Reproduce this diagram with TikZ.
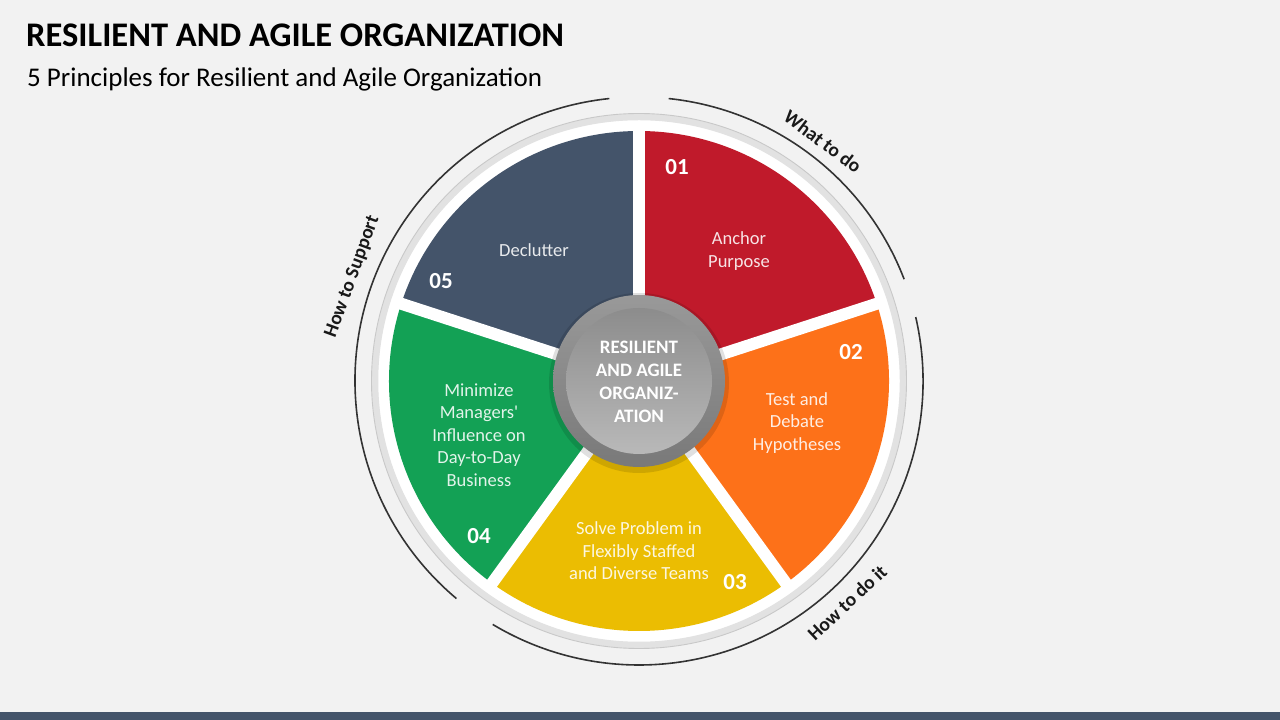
\documentclass[tikz,border=0pt]{standalone}
\usepackage{fontspec}
\setmainfont{Carlito}[Ligatures=TeXOff]
\definecolor{bgc}{HTML}{F2F2F2}
\definecolor{cred}{HTML}{C01A2B}
\definecolor{corange}{HTML}{FD7119}
\definecolor{cyellow}{HTML}{EBBD02}
\definecolor{cgreen}{HTML}{13A155}
\definecolor{cslate}{HTML}{44546A}
\definecolor{arcc}{HTML}{333333}
\definecolor{ringc}{HTML}{E2E2E2}
\definecolor{ringl}{HTML}{C8C8C8}
\begin{document}
\begin{tikzpicture}[x=1pt,y=1pt,
  wtext/.style={text=white, text opacity=0.88, font=\fontsize{18.5}{22.5}\selectfont, align=center},
  numtext/.style={text=white, font=\fontsize{23}{26}\selectfont\bfseries},
  lbl/.style={text=black!90, font=\fontsize{19.5}{24}\selectfont\bfseries},
  outarc/.style={draw=arcc, line width=1.6}]
\fill[bgc] (0,0) rectangle (1280,720);
\useasboundingbox (0,0) rectangle (1280,720);
\fill[cslate] (0,0) rectangle (1280,8);
\node[anchor=base west, font=\fontsize{34.5}{38}\selectfont\bfseries, inner sep=0] (title) at (26,673) {RESILIENT AND AGILE ORGANIZATION};
\node[anchor=base west, font=\fontsize{27}{30}\selectfont, inner sep=0] (subtitle) at (27,633) {5 Principles for Resilient and Agile Organization};
\begin{scope}[shift={(639,339)}]
  % ring
  \fill[white] (0,0) circle[radius=261];
  \draw[ringc, line width=6.5] (0,0) circle[radius=264];
  \draw[ringl, line width=0.9] (0,0) circle[radius=267.5];
  % wedges
  \fill[cred] (0,0) -- (18:250) arc[start angle=18,end angle=90,radius=250] -- cycle;
  \fill[corange] (0,0) -- (-54:250) arc[start angle=-54,end angle=18,radius=250] -- cycle;
  \fill[cyellow] (0,0) -- (-126:250) arc[start angle=-126,end angle=-54,radius=250] -- cycle;
  \fill[cgreen] (0,0) -- (162:250) arc[start angle=162,end angle=234,radius=250] -- cycle;
  \fill[cslate] (0,0) -- (90:250) arc[start angle=90,end angle=162,radius=250] -- cycle;
  \foreach \a in {90,18,-54,-126,162}{
    \draw[white, line width=12] (0,0) -- (\a:258);
  }
  % outer arcs
  \draw[outarc] (96:284) arc[start angle=96,end angle=230,radius=284];
  \draw[outarc] (84:284) arc[start angle=84,end angle=21,radius=284];
  \draw[outarc] (13:284) arc[start angle=13,end angle=-121,radius=284];
  % labels
  \node[lbl, rotate=-37] (l1) at (52.5:302) {What to do};
  \node[lbl, rotate=43] (l2) at (-46.8:304) {How to do it};
  \node[lbl, rotate=70] (l3) at (160:305) {How to Support};
  % center
  \fill[black, opacity=0.12] (0,-2) circle[radius=90];
  \shade[top color=gray!80!white, bottom color=gray!95!black] (0,0) circle[radius=86];
  \shade[top color=gray!90!white, bottom color=gray!55!white] (0,0) circle[radius=73];
  \node[text=white, font=\fontsize{19}{23}\selectfont\bfseries, align=center] (center) at (0,-1) {RESILIENT\\AND AGILE\\ORGANIZ-\\ATION};
\end{scope}
% wedge texts
\node[numtext] (n1) at (677,553) {01};
\node[wtext] (t1) at (739,469) {Anchor\\Purpose};
\node[numtext] (n2) at (851,368) {02};
\node[wtext] (t2) at (797,297) {Test and\\Debate\\Hypotheses};
\node[numtext] (n3) at (735,138) {03};
\node[wtext] (t3) at (639,169) {Solve Problem in\\Flexibly Staffed\\and Diverse Teams};
\node[numtext] (n4) at (479,184) {04};
\node[wtext] (t4) at (479,285) {Minimize\\Managers'\\Influence on\\Day-to-Day\\Business};
\node[numtext] (n5) at (441,439) {05};
\node[wtext] (t5) at (534,470) {Declutter};
\end{tikzpicture}
\end{document}
